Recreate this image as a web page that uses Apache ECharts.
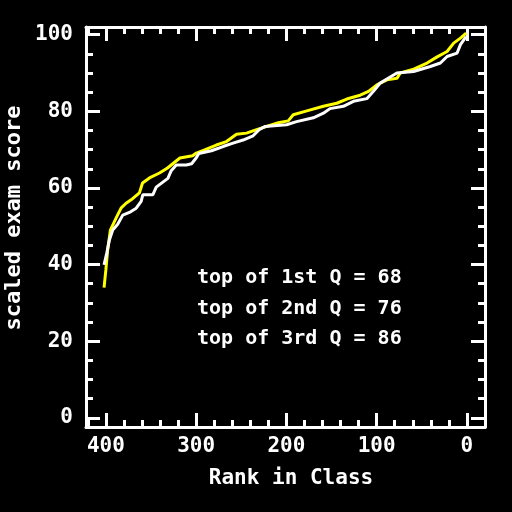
<!DOCTYPE html>
<html>
<head>
<meta charset="utf-8">
<script src="https://cdn.jsdelivr.net/npm/echarts@6/dist/echarts.min.js"></script>
<style>
  html, body { margin: 0; padding: 0; background: #000; }
  #chart { width: 512px; height: 512px; }
</style>
</head>
<body>
<div id="chart"></div>
<script>
// rank in class (x) vs scaled exam score (y)
const yellowData = [
  [402, 34], [400, 38.6], [398, 43.8], [395, 49], [392.4, 50.3], [388.7, 52.1],
  [383, 54.8], [377.6, 56], [372, 56.9], [362.8, 58.7], [359.4, 61.3],
  [351.7, 62.6], [340.6, 63.9], [331.7, 65.2], [318, 67.8], [303.9, 68.4],
  [299.8, 69.1], [290.6, 69.9], [277.6, 71.2], [266.4, 72.1], [255.3, 74],
  [244.2, 74.3], [233, 75.2], [209, 77], [198, 77.5], [192.4, 79.1],
  [177.4, 80.1], [159, 81.3], [144.2, 82.1], [133.1, 83.2], [118.3, 84.2],
  [109, 85.2], [99.8, 86.9], [88.7, 88.2], [77.6, 88.6], [73.9, 90],
  [59, 91], [44.2, 92.6], [33, 94.2], [22, 95.6], [14.7, 97.8], [7.2, 99.1],
  [0.9, 100.4]
];
const whiteData = [
  [402, 39.9], [399, 43], [396, 46.5], [392.4, 49], [386.9, 50.5],
  [381.3, 52.9], [373.9, 53.6], [366.4, 54.7], [360.9, 56.5], [359.1, 58.2],
  [348, 58.2], [344.2, 60.2], [331.3, 62.5], [327.6, 64.5], [322, 66],
  [310.9, 66], [305, 66.3], [300, 67.8], [297, 69], [283, 69.7],
  [270.2, 70.8], [259.1, 71.7], [248, 72.5], [236.9, 73.6], [230.2, 75.2],
  [223.9, 76], [199.8, 76.5], [188.7, 77.3], [170.2, 78.3], [159, 79.5],
  [151.7, 80.7], [136.9, 81.3], [125.8, 82.6], [110.9, 83.3], [103.6, 85.2],
  [96.1, 87.4], [77.6, 90], [59.1, 90.4], [40.6, 91.7], [29.4, 92.6],
  [22, 94.3], [10.9, 95.2], [7.2, 97.4], [1, 99.5]
];

const xMajorTicks = [0, 100, 200, 300, 400];
const xMinorTicks = [20, 40, 60, 80, 120, 140, 160, 180, 220, 240, 260, 280, 320, 340, 360, 380, 420];
const yMajorTicks = [0, 20, 40, 60, 80, 100];
const yMinorTicks = [5, 10, 15, 25, 30, 35, 45, 50, 55, 65, 70, 75, 85, 90, 95];
const quartileNotes = ['top of 1st Q = 68', 'top of 2nd Q = 76', 'top of 3rd Q = 86'];

const xRange = { min: -20, max: 422 };
const yRange = { min: -2.4, max: 102 };
const font = '"DejaVu Sans Mono", monospace';

function xAx(position, ticks, len, showLine, showLabel) {
  return {
    type: 'value', position: position, offset: 0, inverse: true,
    min: xRange.min, max: xRange.max,
    axisLine: { show: showLine, onZero: false, lineStyle: { color: '#fff', width: 3 } },
    axisTick: { show: true, inside: true, length: len, customValues: ticks,
                lineStyle: { color: '#fff', width: 3 } },
    axisLabel: { show: showLabel, customValues: ticks, color: '#fff',
                 fontFamily: font, fontWeight: 'bold', fontSize: 21, margin: 9 },
    splitLine: { show: false }
  };
}
function yAx(position, ticks, len, showLine, showLabel) {
  return {
    type: 'value', position: position, offset: 0,
    min: yRange.min, max: yRange.max,
    axisLine: { show: showLine, onZero: false, lineStyle: { color: '#fff', width: 3 } },
    axisTick: { show: true, inside: true, length: len, customValues: ticks,
                lineStyle: { color: '#fff', width: 3 } },
    axisLabel: { show: showLabel, customValues: ticks, color: '#fff',
                 fontFamily: font, fontWeight: 'bold', fontSize: 21, margin: 13 },
    splitLine: { show: false }
  };
}

const chart = echarts.init(document.getElementById('chart'));
chart.setOption({
  animation: false,
  backgroundColor: '#000',
  grid: { left: 86, right: 27, top: 27, bottom: 85 },
  xAxis: [
    xAx('bottom', xMajorTicks, 14, true, true),
    xAx('bottom', xMinorTicks, 7, false, false),
    xAx('top', xMajorTicks, 14, true, false),
    xAx('top', xMinorTicks, 7, false, false)
  ],
  yAxis: [
    yAx('left', yMajorTicks, 14, true, true),
    yAx('left', yMinorTicks, 7, false, false),
    yAx('right', yMajorTicks, 14, true, false),
    yAx('right', yMinorTicks, 7, false, false)
  ],
  series: [
    { type: 'line', data: yellowData, showSymbol: false, symbol: 'none',
      lineStyle: { color: '#ffff00', width: 3 }, xAxisIndex: 0, yAxisIndex: 0 },
    { type: 'line', data: whiteData, showSymbol: false, symbol: 'none',
      lineStyle: { color: '#ffffff', width: 3 }, xAxisIndex: 0, yAxisIndex: 0 }
  ],
  graphic: [
    { type: 'text', x: 291, y: 479,
      style: { text: 'Rank in Class', fill: '#fff', align: 'center', verticalAlign: 'middle',
               font: 'bold 21px ' + font } },
    { type: 'text', x: 14, y: 218, rotation: Math.PI / 2,
      style: { text: 'scaled exam score', fill: '#fff', align: 'center', verticalAlign: 'middle',
               font: 'bold 22px ' + font } }
  ].concat(quartileNotes.map((t, i) => ({
    type: 'text', x: 197, y: 278 + i * 30.5,
    style: { text: t, fill: '#fff', align: 'left', verticalAlign: 'middle',
             font: 'bold 20px ' + font }
  })))
});
</script>
</body>
</html>
